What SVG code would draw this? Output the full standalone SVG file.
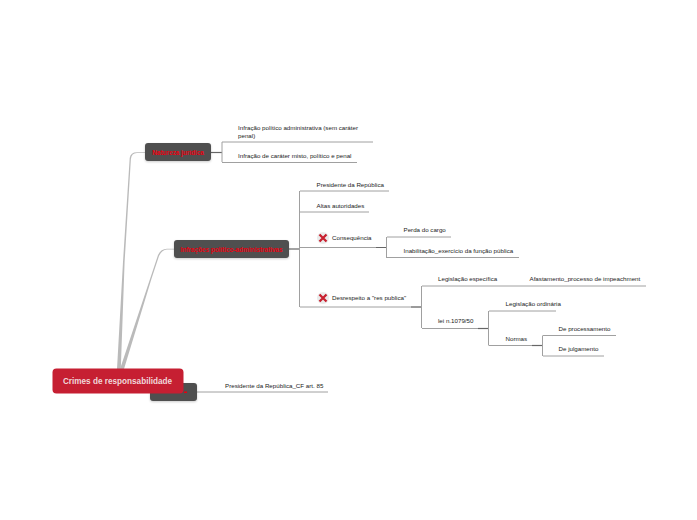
<svg xmlns="http://www.w3.org/2000/svg" width="697" height="520" viewBox="0 0 697 520">
<defs>
<filter id="sh" x="-10%" y="-20%" width="120%" height="150%"><feDropShadow dx="0" dy="1" stdDeviation="1" flood-color="#000" flood-opacity="0.2"/></filter>
<g id="x"><circle cx="0" cy="0" r="6" fill="#eaeaea"/><path d="M-3.500-3.500L3.500 3.500M3.500-3.500L-3.500 3.500" stroke="#c8202f" stroke-width="2.300" fill="none"/></g>
</defs>
<style>
text{font-family:"Liberation Sans",Arial,sans-serif}
.t{font-size:6.200px;fill:#222}
.m{font-size:6.400px;font-weight:bold;fill:#e8000f;text-anchor:middle}
.n{fill:#505050;filter:url(#sh)}
.l{fill:none;stroke:#a0a0a0;stroke-width:1}
.d{fill:none;stroke:#666;stroke-width:1.200}
.b{fill:#bababa;stroke:none}
</style>
<rect width="697" height="520" fill="#fff"/>
<g id="connectors">
<path class="b" d="M117 369L123 262L129.700 158Q130.500 152.200 137 152.200H145V153H137Q131.500 153 130.900 159L124.600 262L120.800 369Z"/>
<path class="b" d="M120 369L150 279L158 255Q161 248.700 167 248.700H174V249.500H167Q162 249.500 159 256L151.400 279L124 369Z"/>
<path class="d" d="M211 152.500H222"/>
<path class="l" d="M222 142V162M222 142H373M222 162.500H357"/>
<path class="d" d="M289 249H300"/>
<path class="l" d="M299.500 191V307M300 191H389M300 212H369M300 247.500H386M300 307H421"/>
<path class="l" d="M386.500 237V258M387 237H451M387 257.500H519"/>
<path class="d" d="M376 247.500H386M411 307H421"/>
<path class="l" d="M421.500 286V328M422 286H646M422 328.500H488"/>
<path class="d" d="M478 328.500H488"/>
<path class="l" d="M488.500 311V345.500M489 311H556M489 345.500H542"/>
<path class="d" d="M532 345.500H542"/>
<path class="l" d="M542.500 335.500V356M543 335.500H616M543 356H604"/>
<path class="l" d="M197 392H328"/>
</g>
<g id="n-natureza"><rect class="n" x="145" y="143" width="66" height="18" rx="3"/><text class="m" x="178" y="154.500">Natureza jurídica</text></g>
<g id="n-infracoes"><rect class="n" x="174" y="240" width="115" height="18" rx="3"/><text class="m" x="231.500" y="251.500">Infrações político-administrativas</text></g>
<g id="n-sujeito"><rect class="n" x="150" y="383" width="47" height="18" rx="3"/><rect x="184" y="391.500" width="3" height="1.500" fill="#e8000f"/></g>
<g id="n-root"><rect x="52.500" y="368.500" width="131" height="25" rx="4" fill="#c61f32"/><text x="117.500" y="383.500" text-anchor="middle" font-size="8.200" font-weight="bold" fill="#f0d8db">Crimes de responsabilidade</text></g>
<g id="n1"><text class="t" x="238" y="130">Infração político administrativa (sem caráter</text><text class="t" x="238" y="138">penal)</text></g>
<g id="n2"><text class="t" x="238" y="158">Infração de caráter misto, político e penal</text></g>
<g id="n3"><text class="t" x="316.500" y="187">Presidente da República</text></g>
<g id="n4"><text class="t" x="316.500" y="208">Altas autoridades</text></g>
<g id="n5"><use href="#x" x="323" y="238"/><text class="t" x="332" y="240">Consequência</text></g>
<g id="n6"><use href="#x" x="323" y="298"/><text class="t" x="332" y="300">Desrespeito a "res publica"</text></g>
<g id="n7"><text class="t" x="403.500" y="232">Perda do cargo</text></g>
<g id="n8"><text class="t" x="403.500" y="253">Inabilitação_exercício da função pública</text></g>
<g id="n9"><text class="t" x="438" y="281">Legislação específica</text></g>
<g id="n10"><text class="t" x="529.500" y="281">Afastamento_processo de impeachment</text></g>
<g id="n11"><text class="t" x="438" y="323">lei n.1079/50</text></g>
<g id="n12"><text class="t" x="505.500" y="306">Legislação ordinária</text></g>
<g id="n13"><text class="t" x="505.500" y="341">Normas</text></g>
<g id="n14"><text class="t" x="558.500" y="331">De processamento</text></g>
<g id="n15"><text class="t" x="558.500" y="351">De julgamento</text></g>
<g id="n16"><text class="t" x="225" y="388">Presidente da República_CF art. 85</text></g>
</svg>
